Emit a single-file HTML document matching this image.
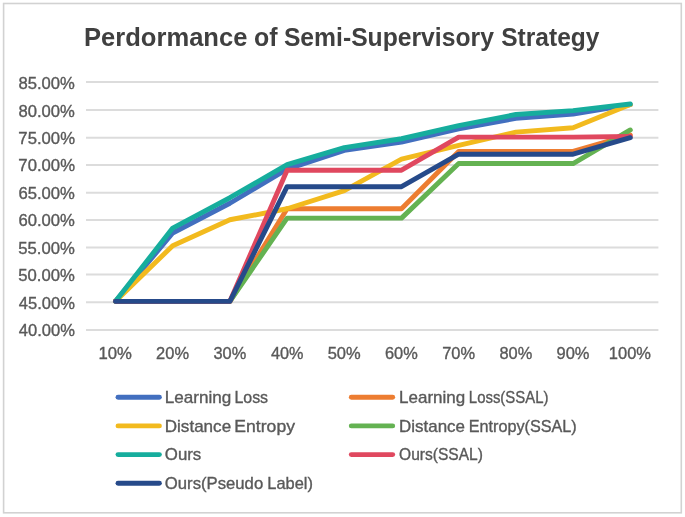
<!DOCTYPE html>
<html><head><meta charset="utf-8"><title>Chart</title>
<style>
html,body{margin:0;padding:0;background:#fff;}
svg{display:block;}
text{font-family:"Liberation Sans",sans-serif;fill:#595959;}
.t{font-weight:bold;fill:#404040;font-size:25.2px;}
.a{font-size:16.2px;stroke:#595959;stroke-width:0.35px;}
</style></head><body>
<svg width="685" height="517" viewBox="0 0 685 517">
<rect x="0" y="0" width="685" height="517" fill="#fff"/>
<rect x="3.6" y="3.5" width="677.7" height="509.3" fill="#fff" stroke="#D2D2D2" stroke-width="1.6"/>
<text class="t" y="46.30"><tspan x="84.07" textLength="163.32" lengthAdjust="spacingAndGlyphs">Perdormance</tspan> <tspan x="254.00" textLength="23.53" lengthAdjust="spacingAndGlyphs">of</tspan> <tspan x="283.89" textLength="210.01" lengthAdjust="spacingAndGlyphs">Semi-Supervisory</tspan> <tspan x="501.20" textLength="98.27" lengthAdjust="spacingAndGlyphs">Strategy</tspan></text>
<line x1="86.0" x2="658.4" y1="330.00" y2="330.00" stroke="#DCDCDC" stroke-width="2"/>
<text class="a" y="336.00"><tspan x="18.85" textLength="56.11" lengthAdjust="spacingAndGlyphs">40.00%</tspan></text>
<line x1="86.0" x2="658.4" y1="302.20" y2="302.20" stroke="#DCDCDC" stroke-width="2"/>
<text class="a" y="308.57"><tspan x="18.85" textLength="56.11" lengthAdjust="spacingAndGlyphs">45.00%</tspan></text>
<line x1="86.0" x2="658.4" y1="274.60" y2="274.60" stroke="#DCDCDC" stroke-width="2"/>
<text class="a" y="281.14"><tspan x="18.32" textLength="56.59" lengthAdjust="spacingAndGlyphs">50.00%</tspan></text>
<line x1="86.0" x2="658.4" y1="247.40" y2="247.40" stroke="#DCDCDC" stroke-width="2"/>
<text class="a" y="253.71"><tspan x="18.32" textLength="56.59" lengthAdjust="spacingAndGlyphs">55.00%</tspan></text>
<line x1="86.0" x2="658.4" y1="220.00" y2="220.00" stroke="#DCDCDC" stroke-width="2"/>
<text class="a" y="226.28"><tspan x="18.43" textLength="56.46" lengthAdjust="spacingAndGlyphs">60.00%</tspan></text>
<line x1="86.0" x2="658.4" y1="192.80" y2="192.80" stroke="#DCDCDC" stroke-width="2"/>
<text class="a" y="198.85"><tspan x="18.43" textLength="56.46" lengthAdjust="spacingAndGlyphs">65.00%</tspan></text>
<line x1="86.0" x2="658.4" y1="165.00" y2="165.00" stroke="#DCDCDC" stroke-width="2"/>
<text class="a" y="171.42"><tspan x="18.36" textLength="56.62" lengthAdjust="spacingAndGlyphs">70.00%</tspan></text>
<line x1="86.0" x2="658.4" y1="137.80" y2="137.80" stroke="#DCDCDC" stroke-width="2"/>
<text class="a" y="143.99"><tspan x="18.36" textLength="56.62" lengthAdjust="spacingAndGlyphs">75.00%</tspan></text>
<line x1="86.0" x2="658.4" y1="110.00" y2="110.00" stroke="#DCDCDC" stroke-width="2"/>
<text class="a" y="116.56"><tspan x="18.49" textLength="56.39" lengthAdjust="spacingAndGlyphs">80.00%</tspan></text>
<line x1="86.0" x2="658.4" y1="82.00" y2="82.00" stroke="#DCDCDC" stroke-width="2"/>
<text class="a" y="89.13"><tspan x="18.49" textLength="56.39" lengthAdjust="spacingAndGlyphs">85.00%</tspan></text>
<text class="a" y="358.70"><tspan x="98.50" textLength="33.44" lengthAdjust="spacingAndGlyphs">10%</tspan></text>
<text class="a" y="358.70"><tspan x="156.14" textLength="32.88" lengthAdjust="spacingAndGlyphs">20%</tspan></text>
<text class="a" y="358.70"><tspan x="213.45" textLength="32.75" lengthAdjust="spacingAndGlyphs">30%</tspan></text>
<text class="a" y="358.70"><tspan x="271.02" textLength="32.48" lengthAdjust="spacingAndGlyphs">40%</tspan></text>
<text class="a" y="358.70"><tspan x="327.68" textLength="33.00" lengthAdjust="spacingAndGlyphs">50%</tspan></text>
<text class="a" y="358.70"><tspan x="384.97" textLength="32.76" lengthAdjust="spacingAndGlyphs">60%</tspan></text>
<text class="a" y="358.70"><tspan x="442.20" textLength="32.88" lengthAdjust="spacingAndGlyphs">70%</tspan></text>
<text class="a" y="358.70"><tspan x="499.49" textLength="32.83" lengthAdjust="spacingAndGlyphs">80%</tspan></text>
<text class="a" y="358.70"><tspan x="556.54" textLength="32.97" lengthAdjust="spacingAndGlyphs">90%</tspan></text>
<text class="a" y="358.70"><tspan x="608.86" textLength="42.14" lengthAdjust="spacingAndGlyphs">100%</tspan></text>
<polyline points="115.50,301.34 172.70,233.00 229.90,203.24 287.10,169.08 344.30,150.34 401.50,142.07 458.70,128.84 515.90,118.37 573.10,113.96 630.30,104.60" fill="none" stroke="#426FBF" stroke-width="4.9" stroke-linecap="round" stroke-linejoin="round"/>
<polyline points="115.50,301.34 172.70,301.34 229.90,301.34 287.10,208.76 344.30,208.76 401.50,208.76 458.70,151.44 515.90,151.44 573.10,151.44 630.30,134.91" fill="none" stroke="#ED7D31" stroke-width="4.9" stroke-linecap="round" stroke-linejoin="round"/>
<polyline points="115.50,301.34 172.70,245.68 229.90,219.78 287.10,208.76 344.30,190.57 401.50,159.16 458.70,145.38 515.90,132.15 573.10,127.74 630.30,104.60" fill="none" stroke="#F2BA1E" stroke-width="4.9" stroke-linecap="round" stroke-linejoin="round"/>
<polyline points="115.50,301.34 172.70,301.34 229.90,301.34 287.10,218.12 344.30,218.12 401.50,218.12 458.70,163.56 515.90,163.56 573.10,163.56 630.30,129.95" fill="none" stroke="#64B252" stroke-width="4.9" stroke-linecap="round" stroke-linejoin="round"/>
<polyline points="115.50,301.34 172.70,228.04 229.90,197.73 287.10,164.67 344.30,147.58 401.50,138.76 458.70,125.54 515.90,114.52 573.10,110.66 630.30,104.04" fill="none" stroke="#16AD9D" stroke-width="4.9" stroke-linecap="round" stroke-linejoin="round"/>
<polyline points="115.50,301.34 172.70,301.34 229.90,301.34 287.10,170.18 344.30,170.18 401.50,170.18 458.70,137.11 515.90,137.11 573.10,137.11 630.30,136.56" fill="none" stroke="#E0485F" stroke-width="4.9" stroke-linecap="round" stroke-linejoin="round"/>
<polyline points="115.50,301.34 172.70,301.34 229.90,301.34 287.10,186.71 344.30,186.71 401.50,186.71 458.70,154.20 515.90,154.20 573.10,154.20 630.30,137.66" fill="none" stroke="#264A8A" stroke-width="4.9" stroke-linecap="round" stroke-linejoin="round"/>
<line x1="118.00" x2="159.40" y1="397.20" y2="397.20" stroke="#426FBF" stroke-width="4.9" stroke-linecap="round"/>
<text class="a" y="403.40"><tspan x="164.75" textLength="66.50" lengthAdjust="spacingAndGlyphs">Learning</tspan> <tspan x="234.44" textLength="33.66" lengthAdjust="spacingAndGlyphs">Loss</tspan></text>
<line x1="351.30" x2="392.70" y1="397.20" y2="397.20" stroke="#ED7D31" stroke-width="4.9" stroke-linecap="round"/>
<text class="a" y="403.40"><tspan x="399.03" textLength="66.18" lengthAdjust="spacingAndGlyphs">Learning</tspan> <tspan x="468.83" textLength="79.61" lengthAdjust="spacingAndGlyphs">Loss(SSAL)</tspan></text>
<line x1="118.00" x2="159.40" y1="425.90" y2="425.90" stroke="#F2BA1E" stroke-width="4.9" stroke-linecap="round"/>
<text class="a" y="431.90"><tspan x="164.76" textLength="66.37" lengthAdjust="spacingAndGlyphs">Distance</tspan> <tspan x="234.39" textLength="60.58" lengthAdjust="spacingAndGlyphs">Entropy</tspan></text>
<line x1="351.30" x2="392.70" y1="425.90" y2="425.90" stroke="#64B252" stroke-width="4.9" stroke-linecap="round"/>
<text class="a" y="431.90"><tspan x="399.04" textLength="65.93" lengthAdjust="spacingAndGlyphs">Distance</tspan> <tspan x="468.72" textLength="107.98" lengthAdjust="spacingAndGlyphs">Entropy(SSAL)</tspan></text>
<line x1="118.00" x2="159.40" y1="454.60" y2="454.60" stroke="#16AD9D" stroke-width="4.9" stroke-linecap="round"/>
<text class="a" y="460.40"><tspan x="164.80" textLength="36.48" lengthAdjust="spacingAndGlyphs">Ours</tspan></text>
<line x1="351.30" x2="392.70" y1="454.60" y2="454.60" stroke="#E0485F" stroke-width="4.9" stroke-linecap="round"/>
<text class="a" y="460.40"><tspan x="399.11" textLength="83.77" lengthAdjust="spacingAndGlyphs">Ours(SSAL)</tspan></text>
<line x1="118.00" x2="159.40" y1="483.30" y2="483.30" stroke="#264A8A" stroke-width="4.9" stroke-linecap="round"/>
<text class="a" y="488.90"><tspan x="164.83" textLength="98.35" lengthAdjust="spacingAndGlyphs">Ours(Pseudo</tspan> <tspan x="267.37" textLength="45.58" lengthAdjust="spacingAndGlyphs">Label)</tspan></text>
</svg></body></html>
